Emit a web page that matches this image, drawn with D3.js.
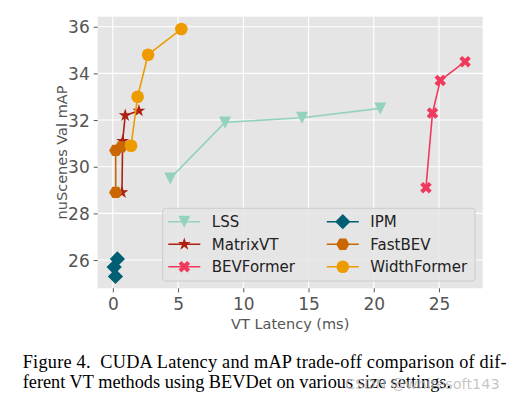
<!DOCTYPE html>
<html><head><meta charset="utf-8">
<script src="https://cdn.jsdelivr.net/npm/d3@7"></script>
<style>body{margin:0;background:#fff}svg{display:block}</style>
</head><body>
<script>
// ---- data ----
const seriesNames = ["LSS","MatrixVT","BEVFormer","IPM","FastBEV","WidthFormer"];
const lssLatency = [4.4, 8.6, 14.5, 20.5];
const lssMAP     = [29.5, 31.9, 32.1, 32.5];
const matrixLatency = [0.7, 0.75, 0.95, 2.0];
const matrixMAP     = [28.9, 31.1, 32.2, 32.4];
const bevformerLatency = [24.0, 24.5, 25.1, 27.0];
const bevformerMAP     = [29.1, 32.3, 33.7, 34.5];
const ipmLatency = [0.2, 0.1, 0.35];
const ipmMAP     = [25.3, 25.7, 26.05];
const fastbevLatency = [0.22, 0.22, 0.65];
const fastbevMAP     = [28.9, 30.7, 30.85];
const widthLatency = [1.4, 1.9, 2.7, 5.25];
const widthMAP     = [30.9, 33.0, 34.8, 35.9];
const xTicks = [0, 5, 10, 15, 20, 25];
const yTicks = [26, 28, 30, 32, 34, 36];

const W = 518, H = 403;
const svg = d3.select("body").append("svg").attr("width", W).attr("height", H);
svg.append("rect").attr("width", W).attr("height", H).attr("fill", "#fff");

const plot = {l: 97.7, r: 482.7, t: 16.7, b: 288.3};
const x = d3.scaleLinear().domain([-1.16, 28.35]).range([plot.l, plot.r]);
const y = d3.scaleLinear().domain([24.79, 36.43]).range([plot.b, plot.t]);

svg.append("rect").attr("x", plot.l).attr("y", plot.t)
  .attr("width", plot.r - plot.l).attr("height", plot.b - plot.t).attr("fill", "#E5E5E5");

// grid
const g = svg.append("g");
g.selectAll(".vg").data(xTicks).join("line")
  .attr("x1", d => x(d)).attr("x2", d => x(d)).attr("y1", plot.t).attr("y2", plot.b)
  .attr("stroke", "#fff").attr("stroke-width", 1.1);
g.selectAll(".hg").data(yTicks).join("line")
  .attr("y1", d => y(d)).attr("y2", d => y(d)).attr("x1", plot.l).attr("x2", plot.r)
  .attr("stroke", "#fff").attr("stroke-width", 1.1);

// axes
const font = "DejaVu Sans";
const xAxis = svg.append("g").attr("transform", `translate(0,${plot.b})`)
  .call(d3.axisBottom(x).tickValues(xTicks).tickSize(4).tickPadding(5).tickFormat(d3.format("d")));
const yAxis = svg.append("g").attr("transform", `translate(${plot.l},0)`)
  .call(d3.axisLeft(y).tickValues(yTicks).tickSize(4).tickPadding(4).tickFormat(d3.format("d")));
[xAxis, yAxis].forEach(a => {
  a.select(".domain").remove();
  a.selectAll(".tick line").attr("stroke", "#555").attr("stroke-width", 1);
  a.selectAll(".tick text").attr("fill", "#555").attr("font-family", font).attr("font-size", 17);
});
xAxis.selectAll(".tick text").attr("dy", null).attr("y", 22);
yAxis.selectAll(".tick text").attr("dy", "0.36em");

svg.append("text").attr("x", (plot.l + plot.r) / 2).attr("y", 328.5)
  .attr("text-anchor", "middle").attr("font-family", font).attr("font-size", 14.5)
  .attr("fill", "#555").text("VT Latency (ms)");
svg.append("text").attr("transform", `translate(66.5,${(plot.t + plot.b) / 2}) rotate(-90)`)
  .attr("text-anchor", "middle").attr("font-family", font).attr("font-size", 14.5)
  .attr("fill", "#555").text("nuScenes Val mAP");

// marker shapes
function poly(pts){ return "M" + pts.map(p => p[0].toFixed(2) + "," + p[1].toFixed(2)).join("L") + "Z"; }
const markers = {
  triDown: () => poly([[-6,-6],[6,-6],[0,6]]),
  star: () => { const pts=[]; for (let i=0;i<10;i++){ const r = i%2 ? 2.6 : 6.8; const a = -Math.PI/2 + i*Math.PI/5; pts.push([r*Math.cos(a), r*Math.sin(a)]);} return poly(pts); },
  xFilled: () => { const a=7.2, w=2.4; const base=[[-w,-a],[w,-a],[w,-w],[a,-w],[a,w],[w,w],[w,a],[-w,a],[-w,w],[-a,w],[-a,-w],[-w,-w]];
                   const c=Math.SQRT1_2; return poly(base.map(p=>[(p[0]-p[1])*c*0.85, (p[0]+p[1])*c*0.85])); },
  diamond: () => poly([[0,-7.6],[7.6,0],[0,7.6],[-7.6,0]]),
  hexagon: () => { const pts=[]; for(let i=0;i<6;i++){ const a=i*Math.PI/3; pts.push([6.6*Math.cos(a), 6.6*Math.sin(a)]);} return poly(pts); },
  circle: () => d3.symbol(d3.symbolCircle, Math.PI*6.3*6.3)()
};

const series = [
  {name: seriesNames[0], xs: lssLatency, ys: lssMAP, color: "#94D2BD", marker: "triDown"},
  {name: seriesNames[1], xs: matrixLatency, ys: matrixMAP, color: "#AE2012", marker: "star"},
  {name: seriesNames[2], xs: bevformerLatency, ys: bevformerMAP, color: "#EF3A5D", marker: "xFilled"},
  {name: seriesNames[3], xs: ipmLatency, ys: ipmMAP, color: "#005F73", marker: "diamond"},
  {name: seriesNames[4], xs: fastbevLatency, ys: fastbevMAP, color: "#CA6702", marker: "hexagon"},
  {name: seriesNames[5], xs: widthLatency, ys: widthMAP, color: "#EE9B00", marker: "circle"}
];

const line = d3.line().x(d => x(d[0])).y(d => y(d[1]));
series.forEach(s => {
  const pts = s.xs.map((v, i) => [v, s.ys[i]]);
  const gs = svg.append("g");
  gs.append("path").attr("d", line(pts)).attr("fill", "none")
    .attr("stroke", s.color).attr("stroke-width", 1.6);
  gs.selectAll("path.m").data(pts).join("path").attr("class", "m")
    .attr("d", markers[s.marker]())
    .attr("transform", d => `translate(${x(d[0])},${y(d[1])})`)
    .attr("fill", s.color);
});

// legend
const lg = svg.append("g");
lg.append("rect").attr("x", 162.7).attr("y", 208.3).attr("width", 312.3).attr("height", 72.7)
  .attr("rx", 3).attr("fill", "#E5E5E5").attr("fill-opacity", 0.85).attr("stroke", "#CCCCCC").attr("stroke-width", 1);
const rowY = [221.7, 244.2, 266.7];
const colX = [168.3, 326.8];
series.forEach((s, i) => {
  const cx = colX[Math.floor(i / 3)], cy = rowY[i % 3];
  lg.append("line").attr("x1", cx).attr("x2", cx + 32).attr("y1", cy).attr("y2", cy)
    .attr("stroke", s.color).attr("stroke-width", 1.6);
  lg.append("path").attr("d", markers[s.marker]()).attr("transform", `translate(${cx + 16},${cy})`).attr("fill", s.color);
  lg.append("text").attr("x", cx + 43.5).attr("y", cy).attr("dy", "0.36em")
    .attr("font-family", font).attr("font-size", 15).attr("fill", "#222").text(s.name);
});

// caption
const cap = svg.append("g").attr("font-family", "Liberation Serif, Times New Roman, serif").attr("font-size", 18.3).attr("fill", "#000");
cap.append("text").attr("x", 22.7).attr("y", 368).attr("textLength", 484).attr("lengthAdjust", "spacing")
  .attr("xml:space", "preserve").text("Figure 4.  CUDA Latency and mAP trade-off comparison of dif-");
cap.append("text").attr("x", 22.7).attr("y", 388).text("ferent VT methods using BEVDet on various size settings.");
svg.append("text").attr("x", 345).attr("y", 389).attr("font-family", font).attr("font-size", 14.5)
  .attr("fill", "#bbbbbb").attr("fill-opacity", 0.85).text("CSDN @whitesoft143");
</script>
</body></html>
